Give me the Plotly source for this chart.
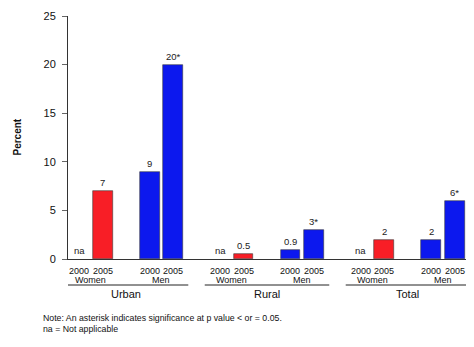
import plotly.graph_objects as go

# Data: percentages by area, sex and survey year (None = not applicable)
areas = ["Urban", "Rural", "Total"]
sexes = ["Women", "Men"]
years = ["2000", "2005"]
women_2000 = [None, None, None]
women_2005 = [7, 0.5, 2]
men_2000 = [9, 0.9, 2]
men_2005 = [20, 3, 6]
men_2005_significant = [True, True, True]
y_ticks = [0, 5, 10, 15, 20, 25]

RED = "#f81e26"
BLUE = "#0c18ee"
OUTLINE = "#3a3a3a"
FONT = "Liberation Sans, Arial, sans-serif"


def fmt(v):
    return f"{v:g}"


# x positions: each area gets a block of 6 slots (W2000, W2005, gap, M2000, M2005, gap)
def pos(area_idx, sex_idx, year_idx):
    return 6 * area_idx + 3 * sex_idx + year_idx


fig = go.Figure()
series = [
    (0, 0, women_2000, RED),
    (0, 1, women_2005, RED),
    (1, 0, men_2000, BLUE),
    (1, 1, men_2005, BLUE),
]
annotations = []
for sex_idx, year_idx, vals, color in series:
    xs = [pos(a, sex_idx, year_idx) for a in range(len(areas))]
    if any(v is not None for v in vals):
        fig.add_trace(go.Bar(
            x=[x for x, v in zip(xs, vals) if v is not None],
            y=[v for v in vals if v is not None], width=0.85,
            marker=dict(color=color, line=dict(color=OUTLINE, width=0.6)),
            showlegend=False, hoverinfo="skip",
        ))
    for a, (x, v) in enumerate(zip(xs, vals)):
        if v is None:
            label = "na"
            y = 0
        else:
            label = fmt(v)
            if sex_idx == 1 and year_idx == 1 and men_2005_significant[a]:
                label += "*"
            y = v
        annotations.append(dict(
            x=x, y=y, xref="x", yref="y", text=label, showarrow=False,
            yanchor="bottom", yshift=1, font=dict(size=9.5, color="#222", family=FONT),
        ))

# category labels under the axis
shapes = []
for a, area in enumerate(areas):
    for s, sex in enumerate(sexes):
        for yi, yr in enumerate(years):
            annotations.append(dict(
                x=pos(a, s, yi), y=0, xref="x", yref="paper", text=yr,
                showarrow=False, yanchor="top", yshift=-5,
                font=dict(size=9, color="#111", family=FONT),
            ))
        annotations.append(dict(
            x=pos(a, s, 0) + 0.5, y=0, xref="x", yref="paper", text=sex,
            showarrow=False, yanchor="top", yshift=-14,
            font=dict(size=9, color="#111", family=FONT),
        ))
    center = 6 * a + 2
    shapes.append(dict(
        type="line", xref="x", yref="paper", x0=center - 2.65, x1=center + 2.65,
        y0=-0.107, y1=-0.107, line=dict(color="#222", width=1),
    ))
    annotations.append(dict(
        x=center, y=-0.107, xref="x", yref="paper", text=area, showarrow=False,
        yanchor="top", yshift=-1, font=dict(size=11, color="#111", family=FONT),
    ))

annotations.append(dict(
    x=0, y=0.5, xref="paper", yref="paper", text="<b>Percent</b>", textangle=-90,
    showarrow=False, xanchor="center", yanchor="middle", xshift=-51,
    font=dict(size=10, color="#111", family=FONT),
))
annotations.append(dict(
    x=0, y=0, xref="paper", yref="paper", align="left",
    text="Note: An asterisk indicates significance at p value < or = 0.05.<br>na = Not applicable",
    showarrow=False, xanchor="left", yanchor="top", xshift=-27, yshift=-52,
    font=dict(size=8.75, color="#111", family=FONT),
))

fig.update_layout(
    width=474, height=347,
    margin=dict(l=68, r=8, t=16, b=88),
    paper_bgcolor="white", plot_bgcolor="white",
    bargap=0, shapes=shapes, annotations=annotations,
    font=dict(family=FONT),
)
fig.update_xaxes(
    range=[-0.47, 16.47], showticklabels=False, ticks="", showgrid=False,
    zeroline=False, showline=True, linecolor="#333", linewidth=1,
)
fig.update_yaxes(
    range=[0, 25], tickvals=y_ticks, ticks="outside", ticklen=5, tickcolor="#666",
    showgrid=False, zeroline=False, showline=True, linecolor="#333", linewidth=1,
    tickfont=dict(size=11, color="#111", family=FONT), ticklabelstandoff=4,
)

fig.write_html("out.html")
